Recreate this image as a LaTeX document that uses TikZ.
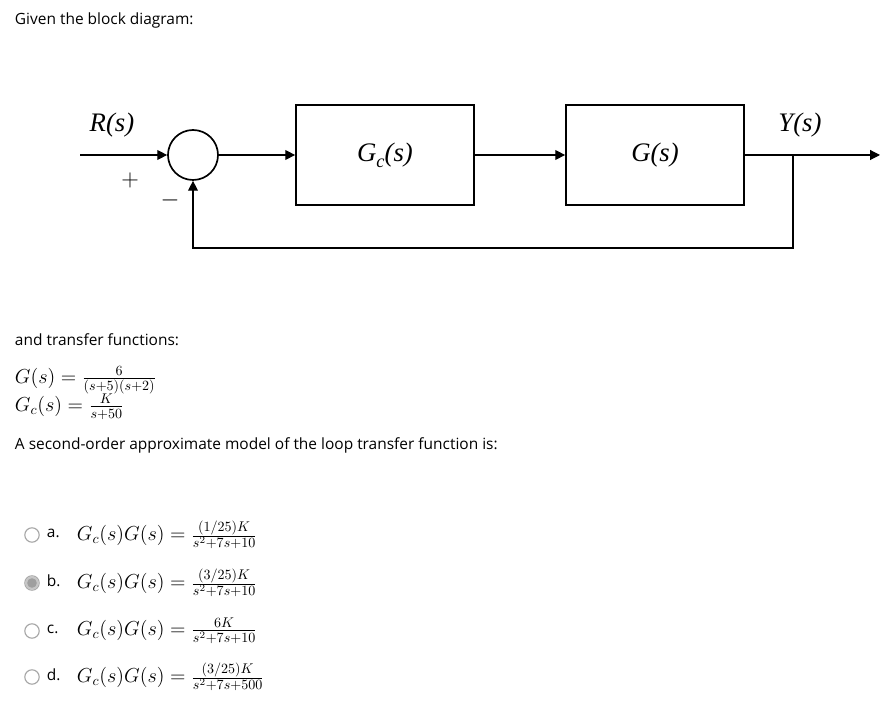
\documentclass[tikz,border=0pt]{standalone}
\usepackage{fontspec}
\newfontfamily\uifont{Open Sans}
\newfontfamily\blkfont{Liberation Serif}
\usetikzlibrary{arrows.meta}
\tikzset{
  blk/.style={draw,line width=1.2pt,minimum width=4.45cm,minimum height=2.5cm,font=\blkfont\itshape\fontsize{19}{22}\selectfont},
  sig/.style={line width=0.8pt,-{Triangle[length=7pt,width=7pt]}},
  ui/.style={anchor=west,font=\uifont\fontsize{11}{13}\selectfont},
  radio/.style={circle,draw=gray!70,line width=0.8pt,minimum size=0.36cm,inner sep=0pt},
  opt/.style={anchor=west,font=\fontsize{14.5}{17}\selectfont}
}
\begin{document}
\begin{tikzpicture}[x=0.025cm,y=-0.025cm]
  \useasboundingbox (0,0) rectangle (884,707);
  \node[ui] (title) at (10,20) {Given the block diagram:};
  % block diagram
  \coordinate (in) at (80,155);
  \node[circle,draw,line width=1.2pt,minimum size=1.25cm] (sum) at (193,155) {};
  \node[blk] (gc) at (385,155) {G\raisebox{-0.5ex}{\fontsize{13}{15}\selectfont c}(s)};
  \node[blk] (g) at (655,155) {G(s)};
  \coordinate (out) at (880,155);
  \coordinate (br) at (793,155);
  \coordinate (fb) at (793,248);
  \coordinate (fb2) at (193,248);
  \node[font=\blkfont\itshape\fontsize{19}{22}\selectfont] (r) at (112,125) {R(s)};
  \node[font=\blkfont\itshape\fontsize{19}{22}\selectfont] (y) at (800,125) {Y(s)};
  \node[font=\fontsize{16}{18}\selectfont] (plus) at (130,180) {$+$};
  \node[font=\fontsize{16}{18}\selectfont] (minus) at (170,200) {$-$};
  \draw[sig] (in) -- (sum);
  \draw[sig] (sum) -- (gc);
  \draw[sig] (gc) -- (g);
  \draw[sig] (g) -- (out);
  \draw[sig] (br) -- (fb) -- (fb2) -- (sum);
  % transfer functions
  \node[ui] (tf) at (10,340) {and transfer functions:};
  \node[opt] (eqg) at (10,380) {$G(s)=\frac{6}{(s+5)(s+2)}$};
  \node[opt] (eqgc) at (10,407) {$G_c(s)=\frac{K}{s+50}$};
  \node[ui] (q) at (10,445) {A second-order approximate model of the loop transfer function is:};
  % options
  \foreach \l/\yy/\num/\den [count=\i] in {
      a./535/(1\slash25)K/s^2+7s+10,
      b./583/(3\slash25)K/s^2+7s+10,
      c./631/6K/s^2+7s+10,
      d./677/(3\slash25)K/s^2+7s+500} {
    \node[radio] (rb\i) at (32,\yy) {};
    \node[ui] (lab\i) at (42,\yy-2) {\l};
    \node[opt] (ans\i) at (72,\yy) {$G_c(s)G(s)=\frac{\num}{\den}$};
  }
  \fill[gray!45] (rb2) circle (0.17cm);
  \fill[gray!75] (rb2) circle (0.12cm);
\end{tikzpicture}
\end{document}
